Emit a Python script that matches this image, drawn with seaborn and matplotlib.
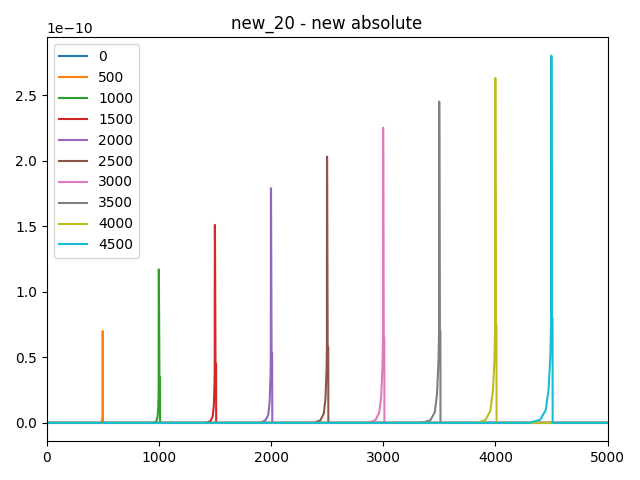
import matplotlib
matplotlib.use("Agg")
import matplotlib.pyplot as plt
import seaborn as sns
import pandas as pd

labels = ["0", "500", "1000", "1500", "2000", "2500", "3000", "3500", "4000", "4500"]
# x points and y values (units of 1e-10)
x_0 = [0, 5000]
y_0 = [0, 0]
x_500 = [0, 480, 490, 495, 498, 499, 500, 501, 502, 503, 5000]
y_500 = [0, 0, 0.01, 0.03, 0.05, 0.70, 0.70, 0.05, 0.05, 0, 0]
x_1000 = [0, 950, 975, 988, 995, 998, 999, 1000, 1005, 1008, 1010, 1011, 1012, 5000]
y_1000 = [0, 0, 0.01, 0.04, 0.12, 0.25, 1.17, 1.17, 0.35, 0.35, 0.35, 0, 0, 0]
x_1500 = [0, 1420, 1460, 1480, 1490, 1496, 1498, 1499, 1500, 1505, 1510, 1511, 5000]
y_1500 = [0, 0, 0.015, 0.05, 0.13, 0.3, 0.4, 1.51, 1.51, 0.45, 0.45, 0, 0]
x_2000 = [0, 1900, 1950, 1975, 1988, 1995, 1998, 1999, 2000, 2005, 2010, 2011, 5000]
y_2000 = [0, 0, 0.02, 0.06, 0.16, 0.35, 0.5, 1.79, 1.79, 0.53, 0.53, 0, 0]
x_2500 = [0, 2380, 2440, 2470, 2485, 2494, 2498, 2499, 2500, 2505, 2510, 2511, 5000]
y_2500 = [0, 0, 0.02, 0.07, 0.18, 0.38, 0.55, 2.03, 2.03, 0.58, 0.58, 0, 0]
x_3000 = [0, 2860, 2930, 2965, 2982, 2993, 2998, 2999, 3000, 3005, 3010, 3011, 5000]
y_3000 = [0, 0, 0.02, 0.08, 0.2, 0.42, 0.62, 2.25, 2.25, 0.65, 0.65, 0, 0]
x_3500 = [0, 3340, 3420, 3460, 3480, 3492, 3498, 3499, 3500, 3505, 3510, 3511, 5000]
y_3500 = [0, 0, 0.02, 0.08, 0.22, 0.45, 0.67, 2.45, 2.45, 0.70, 0.70, 0, 0]
x_4000 = [0, 3820, 3910, 3955, 3978, 3992, 3998, 3999, 4000, 4005, 4010, 4011, 5000]
y_4000 = [0, 0, 0.02, 0.09, 0.24, 0.48, 0.72, 2.63, 2.63, 0.75, 0.75, 0, 0]
x_4500 = [0, 4300, 4400, 4450, 4475, 4491, 4497, 4499, 4500, 4505, 4510, 4511, 5000]
y_4500 = [0, 0, 0.024, 0.1, 0.26, 0.52, 0.77, 2.80, 2.80, 0.80, 0.80, 0, 0]

xs = [x_0, x_500, x_1000, x_1500, x_2000, x_2500, x_3000, x_3500, x_4000, x_4500]
ys = [y_0, y_500, y_1000, y_1500, y_2000, y_2500, y_3000, y_3500, y_4000, y_4500]

rows = []
for lab, xx, yy in zip(labels, xs, ys):
    for i, (a, b) in enumerate(zip(xx, yy)):
        rows.append({"x": a, "y": b * 1e-10, "series": lab, "order": i})
df = pd.DataFrame(rows)

fig, ax = plt.subplots(figsize=(6.4, 4.8), dpi=100)
sns.lineplot(data=df, x="x", y="y", hue="series", units="series", sort=False,
             estimator=None, palette="tab10", hue_order=labels, ax=ax, linewidth=1.5)
ax.set_xlim(0, 5000)
ax.set_xlabel("")
ax.set_ylabel("")
ax.set_title("new_20 - new absolute")
ax.legend(loc="upper left")
fig.tight_layout()
fig.savefig("out.png")
